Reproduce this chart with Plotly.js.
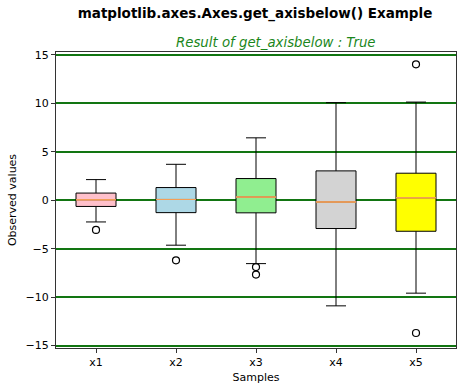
<!DOCTYPE html>
<html><head><meta charset="utf-8">
<script src="https://cdn.plot.ly/plotly-3.0.1.min.js"></script>
<style>body{margin:0;background:#fff}#c{width:474px;height:392px}</style>
</head><body><div id="c"></div>
<script>
const categories = ["x1","x2","x3","x4","x5"];
const q1 = [-0.64, -1.28, -1.3, -2.92, -3.2];
const medians = [0.05, 0.08, 0.33, -0.18, 0.26];
const q3 = [0.74, 1.31, 2.24, 3.03, 2.79];
const lowerWhisker = [-2.24, -4.64, -6.54, -10.9, -9.59];
const upperWhisker = [2.13, 3.71, 6.44, 10.07, 10.13];
const outliers = [[-3.06], [-6.2], [-6.9, -7.67], [], [14.03, -13.7]];
const colors = ["pink", "lightblue", "lightgreen", "lightgray", "yellow"];

const traces = [];
categories.forEach((c, i) => {
  traces.push({
    type: "box", x: [c], q1: [q1[i]], median: [medians[i]], q3: [q3[i]],
    lowerfence: [lowerWhisker[i]], upperfence: [upperWhisker[i]],
    fillcolor: colors[i], line: {color: "#000", width: 1},
    width: 0.5, whiskerwidth: 0.5, boxpoints: false, showlegend: false, hoverinfo: "skip"
  });
  traces.push({
    type: "box", x: [c], q1: [medians[i]], median: [medians[i]], q3: [medians[i]],
    lowerfence: [medians[i]], upperfence: [medians[i]],
    fillcolor: "rgba(0,0,0,0)", line: {color: "#f5a058", width: 1},
    width: 0.5, whiskerwidth: 0, boxpoints: false, showlegend: false, hoverinfo: "skip"
  });
  if (outliers[i].length) {
    traces.push({
      type: "scatter", mode: "markers", x: outliers[i].map(() => c), y: outliers[i],
      marker: {symbol: "circle-open", size: 7, color: "#000", line: {width: 1.2}},
      showlegend: false, hoverinfo: "skip"
    });
  }
});

const layout = {
  width: 474, height: 392,
  margin: {l: 56, r: 18, t: 52, b: 44},
  paper_bgcolor: "#fff", plot_bgcolor: "#fff",
  boxmode: "overlay",
  font: {family: "DejaVu Sans", size: 10, color: "#000"},
  title: {text: "<b>matplotlib.axes.Axes.get_axisbelow() Example</b>", x: 0.538, xanchor: "center", y: 0.977, yanchor: "top",
          font: {family: "DejaVu Sans", size: 13.5, color: "#000"}},
  annotations: [{text: "<i>Result of get_axisbelow : True</i>", xref: "paper", yref: "paper", x: 0.55, y: 1.0, yanchor: "bottom", xanchor: "center",
                 showarrow: false, font: {family: "DejaVu Sans", size: 13.3, color: "#1a861a"}}],
  xaxis: {
    type: "category", categoryorder: "array", categoryarray: categories, range: [-0.5, 4.5],
    showline: true, linecolor: "#333", linewidth: 1, mirror: true,
    ticks: "outside", ticklen: 4, tickcolor: "#333", showgrid: false, zeroline: false,
    title: {text: "Samples", font: {size: 11}, standoff: 5}, tickfont: {size: 11}
  },
  yaxis: {
    range: [-15.25, 15.3], tickvals: [-15, -10, -5, 0, 5, 10, 15],
    showline: true, linecolor: "#333", linewidth: 1, mirror: true,
    ticks: "outside", ticklen: 4, tickcolor: "#333",
    showgrid: true, gridcolor: "#127512", gridwidth: 2, zeroline: false,
    title: {text: "Observed values", font: {size: 11}, standoff: 6}, tickfont: {size: 11}
  }
};
Plotly.newPlot("c", traces, layout, {displayModeBar: false, staticPlot: true});
</script></body></html>
